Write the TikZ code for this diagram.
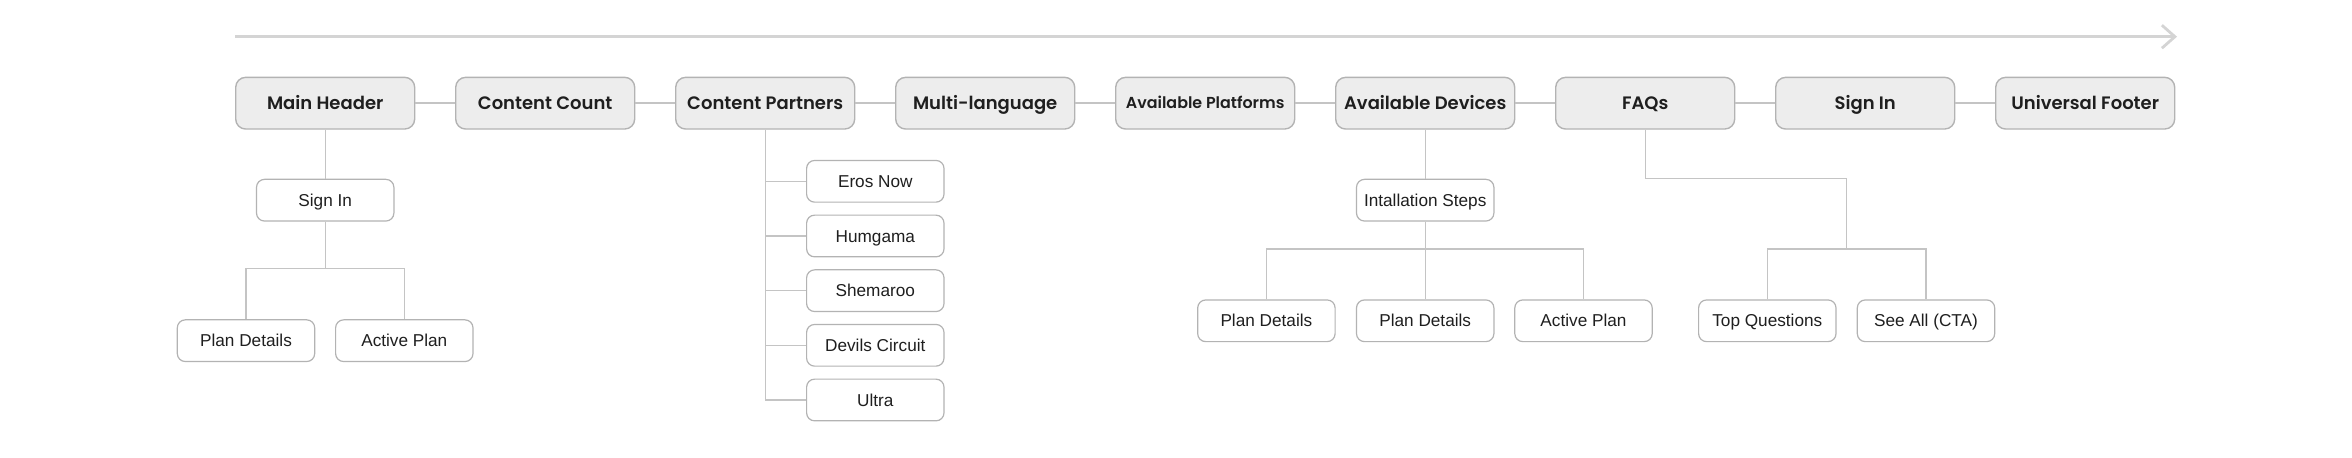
\documentclass[tikz,border=0pt]{standalone}
\usepackage{fontspec}
\usetikzlibrary{arrows.meta}
\setmainfont{Liberation Sans}
\IfFontExistsTF{Poppins SemiBold}{\newfontfamily\popfont{Poppins SemiBold}\newcommand\topfont{\popfont}}{\newfontfamily\popfont{Poppins}\newcommand\topfont{\popfont\bfseries}}
\definecolor{boxfill}{HTML}{EDEDED}
\definecolor{boxline}{HTML}{B3B3B3}
\definecolor{connc}{HTML}{C4C4C4}
\definecolor{arrowc}{HTML}{D4D4D4}
\definecolor{txt}{HTML}{1F1F1F}
\tikzset{
  topbox/.style={draw=boxline, fill=boxfill, line width=0.7pt, rounded corners=5pt,
    minimum width=89.5pt, minimum height=25.85pt, inner sep=0pt, text=txt,
    text height=6.3pt, text depth=0pt,
    font=\topfont\fontsize{9}{11}\selectfont},
  subbox/.style={draw=boxline, fill=white, line width=0.6pt, rounded corners=4pt,
    minimum width=68.7pt, minimum height=20.85pt, inner sep=0pt, text=txt,
    text height=6.16pt, text depth=0pt,
    font=\fontsize{8.6}{10}\selectfont},
  link/.style={draw=connc, line width=0.7pt},
}
\begin{document}
\begin{tikzpicture}[x=0.5pt,y=-0.5pt]
\useasboundingbox (0,0) rectangle (2352,458);
% timeline arrow
\coordinate (as) at (235,36.7);
\coordinate (ae) at (2177,36.7);
\draw[arrowc, line width=1.4pt, -{Straight Barb[length=6.5pt,width=11.5pt]}] (as) -- (ae);
% top row
\node[topbox] (mh) at (325.2,103.2) {Main Header};
\node[topbox] (cc) at (545.2,103.2) {Content Count};
\node[topbox] (cp) at (765.2,103.2) {Content Partners};
\node[topbox] (ml) at (985.2,103.2) {Multi-language};
\node[topbox, text height=5.56pt, font=\topfont\fontsize{7.95}{10}\selectfont] (ap) at (1205.2,103.2) {Available Platforms};
\node[topbox] (ad) at (1425.2,103.2) {Available Devices};
\node[topbox] (fq) at (1645.2,103.2) {FAQs};
\node[topbox] (sg) at (1865.2,103.2) {Sign In};
\node[topbox] (uf) at (2085.2,103.2) {Universal Footer};
\draw[link] (mh.east) -- (cc.west);
\draw[link] (cc.east) -- (cp.west);
\draw[link] (cp.east) -- (ml.west);
\draw[link] (ml.east) -- (ap.west);
\draw[link] (ap.east) -- (ad.west);
\draw[link] (ad.east) -- (fq.west);
\draw[link] (fq.east) -- (sg.west);
\draw[link] (sg.east) -- (uf.west);
% Main Header subtree
\node[subbox] (si) at (325.2,200.2) {Sign In};
\node[subbox] (pd1) at (246,340.7) {Plan Details};
\node[subbox] (ap1) at (404.3,340.7) {Active Plan};
\coordinate (mhb) at (325.2,268.3);
\draw[link] (mh.south) -- (si.north);
\draw[link] (si.south) -- (mhb);
\draw[link] (pd1.north) |- (mhb) -| (ap1.north);
% Content Partners subtree
\node[subbox] (c1) at (875.3,181.3) {Eros Now};
\node[subbox] (c2) at (875.3,236) {Humgama};
\node[subbox] (c3) at (875.3,290.7) {Shemaroo};
\node[subbox] (c4) at (875.3,345.3) {Devils Circuit};
\node[subbox] (c5) at (875.3,400) {Ultra};
\draw[link] (cp.south) |- (c5.west);
\draw[link] (c1.west) -- (c1.west -| cp.south);
\draw[link] (c2.west) -- (c2.west -| cp.south);
\draw[link] (c3.west) -- (c3.west -| cp.south);
\draw[link] (c4.west) -- (c4.west -| cp.south);
% Available Devices subtree
\node[subbox] (is) at (1425.2,200.2) {Intallation Steps};
\node[subbox] (pd2) at (1266.4,320.8) {Plan Details};
\node[subbox] (pd3) at (1425.2,320.8) {Plan Details};
\node[subbox] (ap2) at (1583.5,320.8) {Active Plan};
\coordinate (adb) at (1425.2,249);
\draw[link] (ad.south) -- (is.north);
\draw[link] (is.south) -- (pd3.north);
\draw[link] (pd2.north) |- (adb) -| (ap2.north);
% FAQs subtree
\node[subbox] (tq) at (1767.3,320.8) {Top Questions};
\node[subbox] (sa) at (1926,320.8) {See All (CTA)};
\coordinate (fqa) at (1846.6,178.7);
\coordinate (fqb) at (1846.6,249);
\draw[link] (fq.south) |- (fqa) -- (fqb);
\draw[link] (tq.north) |- (fqb) -| (sa.north);
\end{tikzpicture}
\end{document}
